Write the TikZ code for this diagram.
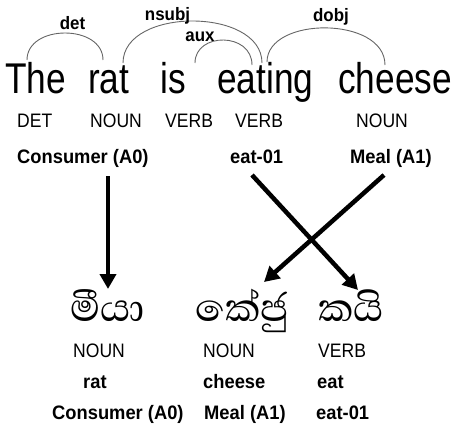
\documentclass[tikz,border=0pt]{standalone}
\usepackage{fontspec}
\setmainfont{Liberation Sans}
\newfontfamily\bigf{Liberation Sans}[FakeStretch=0.82]
\newfontfamily\posf{Liberation Sans}[FakeStretch=0.9]
\newfontfamily\bldf{Liberation Sans}[FakeStretch=0.94]
\newfontfamily\sinhfont[Script=Sinhala]{Abhaya Libre}
\usetikzlibrary{arrows.meta}
\tikzset{
  wordtext/.style={inner sep=0pt, anchor=base west, font=\bigf\fontsize{43}{43}\selectfont},
  postag/.style={inner sep=0pt, anchor=base west, font=\posf\fontsize{19.5}{19.5}\selectfont},
  roletext/.style={inner sep=0pt, anchor=base west, font=\bldf\bfseries\fontsize{19.5}{19.5}\selectfont},
  deplabel/.style={inner sep=0pt, anchor=base, font=\bldf\bfseries\fontsize{18}{18}\selectfont},
  sintext/.style={inner sep=0pt, anchor=base west, font=\sinhfont\fontsize{50}{50}\selectfont},
  deparc/.style={draw=black!60, line width=0.9pt},
  bigarrow/.style={line width=4.5pt, -{Triangle[length=15pt,width=16pt]}}
}
\begin{document}
\begin{tikzpicture}[x=1pt,y=-1pt]
\useasboundingbox (0,0) rectangle (474,445);
% sentence
\node[wordtext] (w1) at (5,93) {The};
\node[wordtext] (w2) at (88,93) {rat};
\node[wordtext] (w3) at (160,93) {is};
\node[wordtext] (w4) at (217,93) {eating};
\node[wordtext] (w5) at (338,93) {cheese};
% POS
\node[postag] (p1) at (17,127.5) {DET};
\node[postag] (p2) at (90,127.5) {NOUN};
\node[postag] (p3) at (165,127.5) {VERB};
\node[postag] (p4) at (235,127.5) {VERB};
\node[postag] (p5) at (356,127.5) {NOUN};
% roles
\node[roletext] (r1) at (17,163) {Consumer (A0)};
\node[roletext] (r2) at (230,163) {eat-01};
\node[roletext] (r3) at (350,163) {Meal (A1)};
% dependency arcs
\coordinate (dA) at (27,60); \coordinate (dB) at (103,60);
\coordinate (nA) at (123,63); \coordinate (nB) at (262,63);
\coordinate (aA) at (195,63); \coordinate (aB) at (252,65);
\coordinate (oA) at (267,62); \coordinate (oB) at (385,65);
\draw[deparc] (dA) .. controls (27,24) and (103,24) .. (dB);
\draw[deparc] (nA) .. controls (123,7) and (262,7) .. (nB);
\draw[deparc] (aA) .. controls (195,32) and (252,32) .. (aB);
\draw[deparc] (oA) .. controls (267,16) and (385,16) .. (oB);
\node[deplabel] (ldet) at (72.5,29) {det};
\node[deplabel] (lnsubj) at (167.5,20) {nsubj};
\node[deplabel] (laux) at (200,41.5) {aux};
\node[deplabel] (ldobj) at (331,21) {dobj};
% Sinhala words
\node[sintext] (s1) at (70,321) {මීයා};
\node[sintext] (s2) at (195,321) {කේජු};
\node[sintext] (s3) at (318,321) {කයි};
% bottom POS
\node[postag] (q1) at (73,357) {NOUN};
\node[postag] (q2) at (203,357) {NOUN};
\node[postag] (q3) at (318,357) {VERB};
% bottom lemmas
\node[roletext] (m1) at (83,388) {rat};
\node[roletext] (m2) at (203,388) {cheese};
\node[roletext] (m3) at (317,388) {eat};
% bottom roles
\node[roletext] (t1) at (52,419) {Consumer (A0)};
\node[roletext] (t2) at (204,419) {Meal (A1)};
\node[roletext] (t3) at (316,419) {eat-01};
% alignment arrows
\coordinate (a0s) at (108,176); \coordinate (a0e) at (108,289);
\coordinate (v0s) at (252,175); \coordinate (v0e) at (358,290);
\coordinate (m0s) at (384,175); \coordinate (m0e) at (264,282);
\draw[bigarrow] (a0s) -- (a0e);
\draw[bigarrow] (v0s) -- (v0e);
\draw[bigarrow] (m0s) -- (m0e);
\end{tikzpicture}
\end{document}
